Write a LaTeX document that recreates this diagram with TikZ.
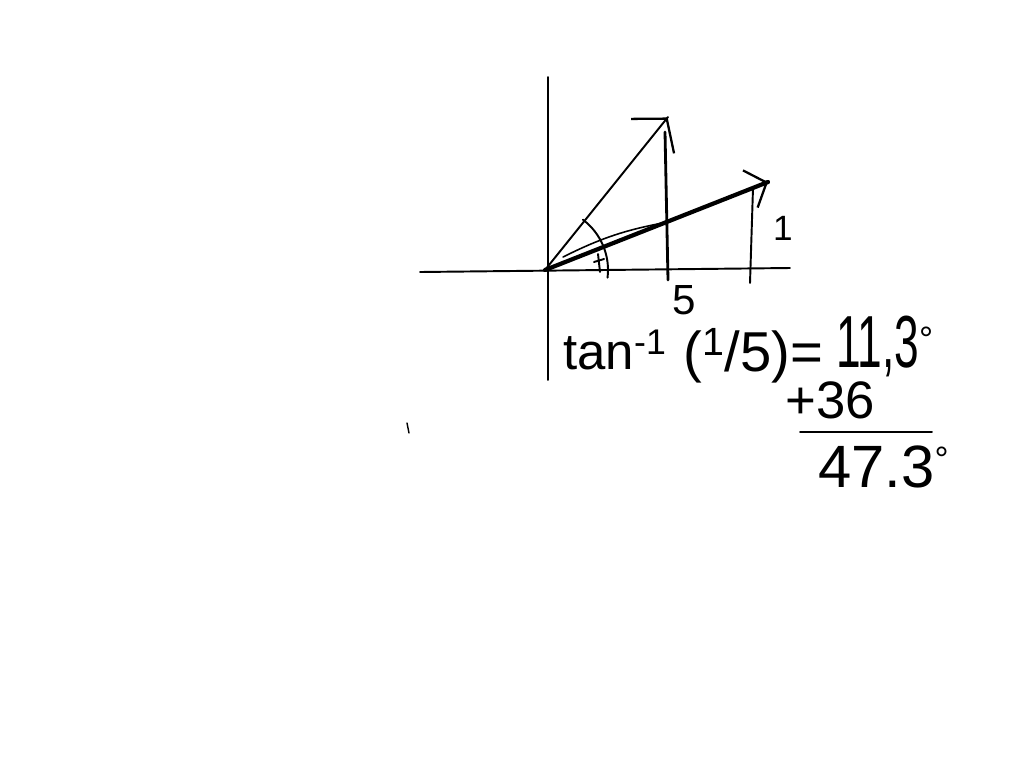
\documentclass[tikz,border=0pt]{standalone}
\usepackage{fontspec}
\setmainfont{Liberation Sans}
\usetikzlibrary{arrows.meta}
\usetikzlibrary{decorations.markings}
\tikzset{hand/.style = {line width = 1.1pt, line cap = round, line join = round}}
\tikzset{vecA/.style = {decoration={markings,
                                    mark=at position 1 with {\arrow{Straight Barb[length=4.5mm, width=11mm, line width=1.3pt]}}},
                        postaction={decorate}}}
\tikzset{vecB/.style = {decoration={markings,
                                    mark=at position 1 with {\arrow{Straight Barb[length=3.5mm, width=8mm, line width=1.3pt]}}},
                        postaction={decorate}}}
\tikzset{txt/.style = {inner sep = 0, anchor = center}}

\begin{document}
\begin{tikzpicture}[x = 0.02cm, y = 0.02cm]
    \useasboundingbox [fill = white] (0, 0) rectangle (1024, -768);
    \coordinate (O) at (545, -270);
    \coordinate (A) at (668, -117);
    \coordinate (B) at (768, -182);
    \coordinate (xl) at (420, -272);
    \coordinate (xr) at (790, -268);
    \coordinate (yt) at (548, -77);
    \coordinate (yb) at (548, -380);
    \draw [hand] (xl) -- (xr);
    \draw [hand] (yt) -- (yb);
    \draw [hand, vecA] (O) -- (A);
    \draw [hand, line width = 2.4pt, vecB] (O) -- (B);
    \coordinate (c1) at (563, -257);
    \coordinate (c2) at (668, -222);
    \draw [hand, line width = 0.9pt] (c1) to [bend left = 8] (c2);
    \coordinate (p1) at (665, -132);
    \coordinate (p2) at (668, -280);
    \draw [hand, line width = 1.6pt] (p1) -- (p2);
    \coordinate (q1) at (753, -188);
    \coordinate (q2) at (750, -283);
    \draw [hand] (q1) -- (q2);
    \draw [hand] ([shift = {(53:63)}] O) arc [start angle = 53, end angle = -7, radius = 63];
    \draw [hand] (598, -254) -- (600, -272);
    \draw [hand] (594, -262) -- (604, -259);
    \draw [hand, line width = 0.8pt] (407, -423) -- (409, -433);
    \node [txt, font = \fontsize{24}{24}\selectfont] (five) at (684, -300) {5};
    \node [txt, font = \fontsize{20}{20}\selectfont] (one) at (783, -228) {1};
    \node [txt, anchor = west, font = \fontsize{29}{29}\selectfont] (tan) at (563, -350)
        {tan\textsuperscript{-1}};
    \node [txt, anchor = west, font = \fontsize{32}{32}\selectfont] (frac) at (683, -356)
        {(\textsuperscript{1}/5)=};
    \node [txt, anchor = west, font = \fontsize{42}{42}\selectfont] (res) at (836, -346)
        {\scalebox{0.6}[1]{11,3}\textsuperscript{\fontsize{20}{20}\selectfont °}};
    \node [txt, font = \fontsize{30}{30}\selectfont] (add) at (830, -400) {+36};
    \coordinate (r1) at (800, -432);
    \coordinate (r2) at (932, -432);
    \draw [hand] (r1) -- (r2);
    \node [txt, anchor = west, font = \fontsize{34}{34}\selectfont] (sum) at (818, -467)
        {47.3\textsuperscript{\fontsize{20}{20}\selectfont °}};
  \end{tikzpicture}
\end{document}
